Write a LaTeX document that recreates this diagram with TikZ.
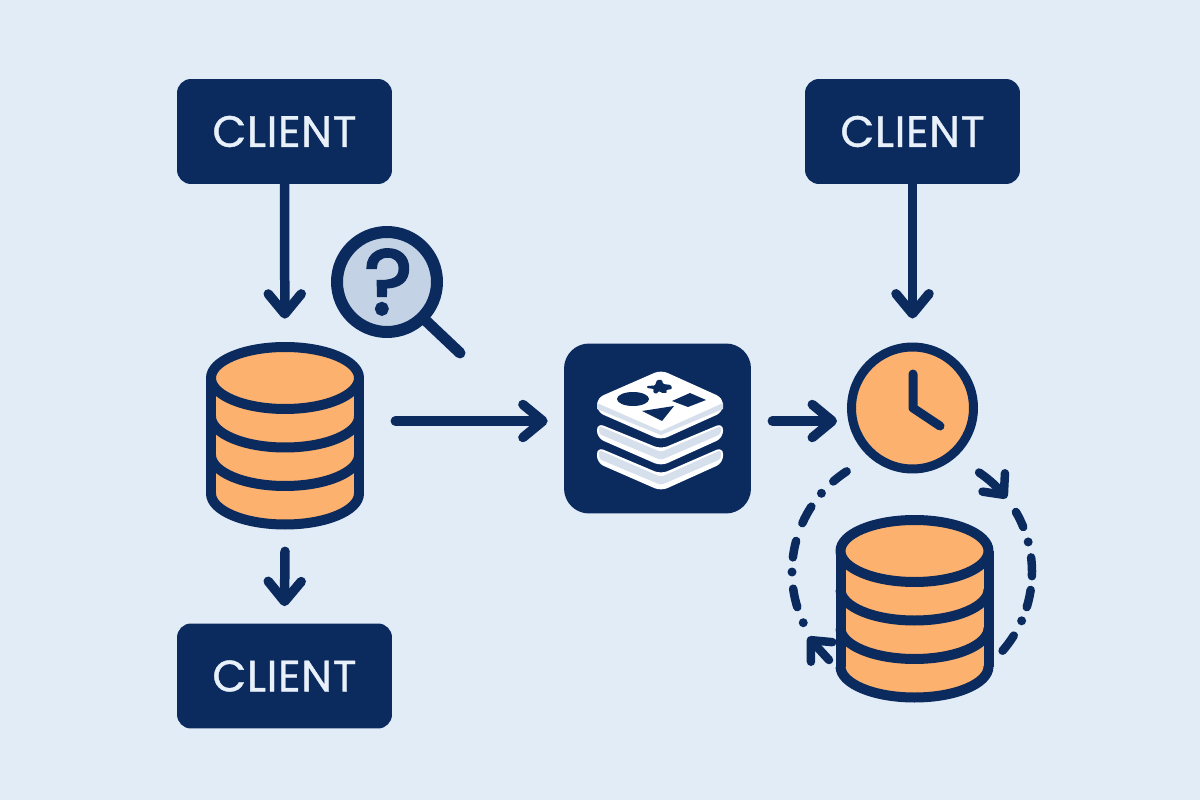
\documentclass[tikz,border=0pt]{standalone}
\usepackage{fontspec}
\setmainfont{Poppins}
\newfontfamily\clientfont[FakeBold=0.9,LetterSpace=1.5]{Poppins}
\newfontfamily\markfont[FakeBold=3]{Poppins}
\usetikzlibrary{positioning, arrows.meta}
\definecolor{navy}{HTML}{0B2A5E}
\definecolor{paper}{HTML}{E1ECF7}
\definecolor{peach}{HTML}{FCB16E}
\definecolor{lens}{HTML}{C3D2E4}
\definecolor{slab}{HTML}{D6E0EC}
\definecolor{ink}{HTML}{E8F0F9}
\tikzset{%
  client/.style={
    rectangle,
    fill=navy,
    rounded corners=0.28cm,
    minimum width=4.3cm,
    minimum height=2.1cm,
    text=ink,
    font=\fontsize{25}{28}\selectfont\clientfont
  },
  flow/.style={
    draw=navy,
    line width=0.19cm,
    line cap=round,
    -{Straight Barb[length=0.4cm,width=0.66cm,round]}
  },
  ring/.style={
    navy,
    line width=0.17cm,
    line cap=round
  },
  ringtip/.style={
    ring,
    line join=round,
    -{Straight Barb[length=0.32cm,width=0.58cm,round]}
  },
  dbline/.style={
    draw=navy,
    line width=0.2cm,
    line join=round
  },
  slabside/.style={
    fill=white,
    rounded corners=0.14cm
  },
  slabband/.style={
    fill=slab,
    rounded corners=0.06cm
  },
  dbstack/.pic={
    \fill[peach] (-74,0) -- (-74,115.5) arc[start angle=180,end angle=360,x radius=74,y radius=-31] -- (74,0) -- cycle;
    \draw[dbline] (-74,0) -- (-74,115.5) (74,0) -- (74,115.5);
    \draw[dbline, fill=peach] (0,0) ellipse[x radius=74,y radius=31];
    \foreach \ribY in {38.5,77,115.5} {
      \draw[dbline] (-74,\ribY) arc[start angle=180,end angle=360,x radius=74,y radius=-31];
    }
    \node[minimum width=3.16cm, minimum height=3.68cm, inner sep=0pt] (-body) at (0,57) {};
  }
}

\begin{document}
\begin{tikzpicture}[x=0.02cm,y=-0.02cm]
		\useasboundingbox[fill=paper] (0,0) rectangle (1200,800);
		%% clients
		\node[client] (clientA) at (284.5,131.5) {CLIENT};
		\node[client] (clientB) at (284.5,676) {CLIENT};
		\node[client] (clientC) at (912.5,131.5) {CLIENT};
		%% databases
		\pic (dbA) at (285,378) {dbstack};
		\pic (dbB) at (914.5,551) {dbstack};
		%% magnifier
		\draw[navy, line width=0.22cm, line cap=round] (423,318) -- (460,353);
		\node[circle, draw=navy, fill=lens, line width=0.24cm, minimum size=2.0cm, inner sep=0pt, text=navy, font=\fontsize{52}{52}\selectfont\markfont] (glass) at (387,282) {\hspace{1.5pt}\raisebox{-1pt}{?}};
		%% store
		\node[rectangle, fill=navy, rounded corners=0.5cm, minimum width=3.74cm, minimum height=3.4cm] (store) at (657.5,428.5) {};
		% bottom slab
		\fill[slabside] (597,447) -- (661,474) -- (723,447) -- (723,463) -- (661,491) -- (597,463) -- cycle;
		\fill[slabband] (599,450) -- (661,477) -- (721,450) -- (721,459) -- (661,485) -- (599,459) -- cycle;
		% middle slab
		\fill[slabside] (597,423) -- (661,449) -- (723,423) -- (723,438) -- (661,466) -- (597,438) -- cycle;
		\fill[slabband] (599,426) -- (661,452) -- (721,426) -- (721,434) -- (661,460) -- (599,434) -- cycle;
		% top slab
		\fill[slabside] (597,398) -- (661,370) -- (723,398) -- (723,412) -- (661,440) -- (597,412) -- cycle;
		\fill[slab] (597,403) -- (661,431) -- (723,403) -- (723,409) -- (661,435) -- (597,409) -- cycle;
		\fill[slabside] (595,400) -- (661,371) -- (725,400) -- (661,429) -- cycle;
		\fill[navy] (633,399) ellipse[x radius=16,y radius=7];
		\fill[navy] (672,401) -- (690,393) -- (706,400) -- (688,407) -- cycle;
		\fill[navy] (642,411) -- (674,406) -- (662,421) -- cycle;
		\fill[navy, rounded corners=0.02cm] (647,386) -- (655,385.5) -- (657,380) -- (662,380) -- (663,384) -- (671,385) -- (672,389) -- (666,390) -- (667,393) -- (662,393) -- (659,391) -- (656,394) -- (653,392) -- (654,389) -- (647,388) -- cycle;
		%% clock
		\node[circle, draw=navy, fill=peach, line width=0.18cm, minimum size=2.44cm, inner sep=0pt] (clock) at (912.5,408) {};
		\draw[navy, line width=0.18cm, line cap=round, line join=round] (913,374) -- (913,408) -- (940,426);
		%% connections
		\draw[flow, shorten >=0.48cm] (clientA) -- (dbA-body);
		\draw[flow, shorten >=0.48cm] (clientC) -- (clock);
		\draw[flow] ([yshift=-0.48cm]dbA-body.south) -- ([yshift=0.34cm]clientB.north);
		\draw[flow] ([shift={(31,-14)}]dbA-body.east) -- ([shift={(-16,-7.5)}]store.west);
		\draw[flow] ([shift={(21,-7.5)}]store.east) -- ([shift={(-10,13)}]clock.west);
		%% refresh ring
		\begin{scope}[shift={(912,572)}]
			\foreach \angA/\angB in {-30/-22,-7/2,8.6/17,32/41,237/229,213/204,195/187,172/163} {
				\draw[ring] plot[domain=\angA:\angB, samples=8] ({120*cos(\x)},{120*sin(\x)});
			}
			\foreach \angA in {-14.5,24,221,180,155} {
				\fill[navy] (\angA:120) circle[radius=4.5];
			}
			\draw[ringtip] plot[domain=-56:-38, samples=8] ({120*cos(\x)},{120*sin(\x)});
			\draw[ringtip] (-83,88) -- (-104,65);
		\end{scope}
	\end{tikzpicture}
\end{document}
